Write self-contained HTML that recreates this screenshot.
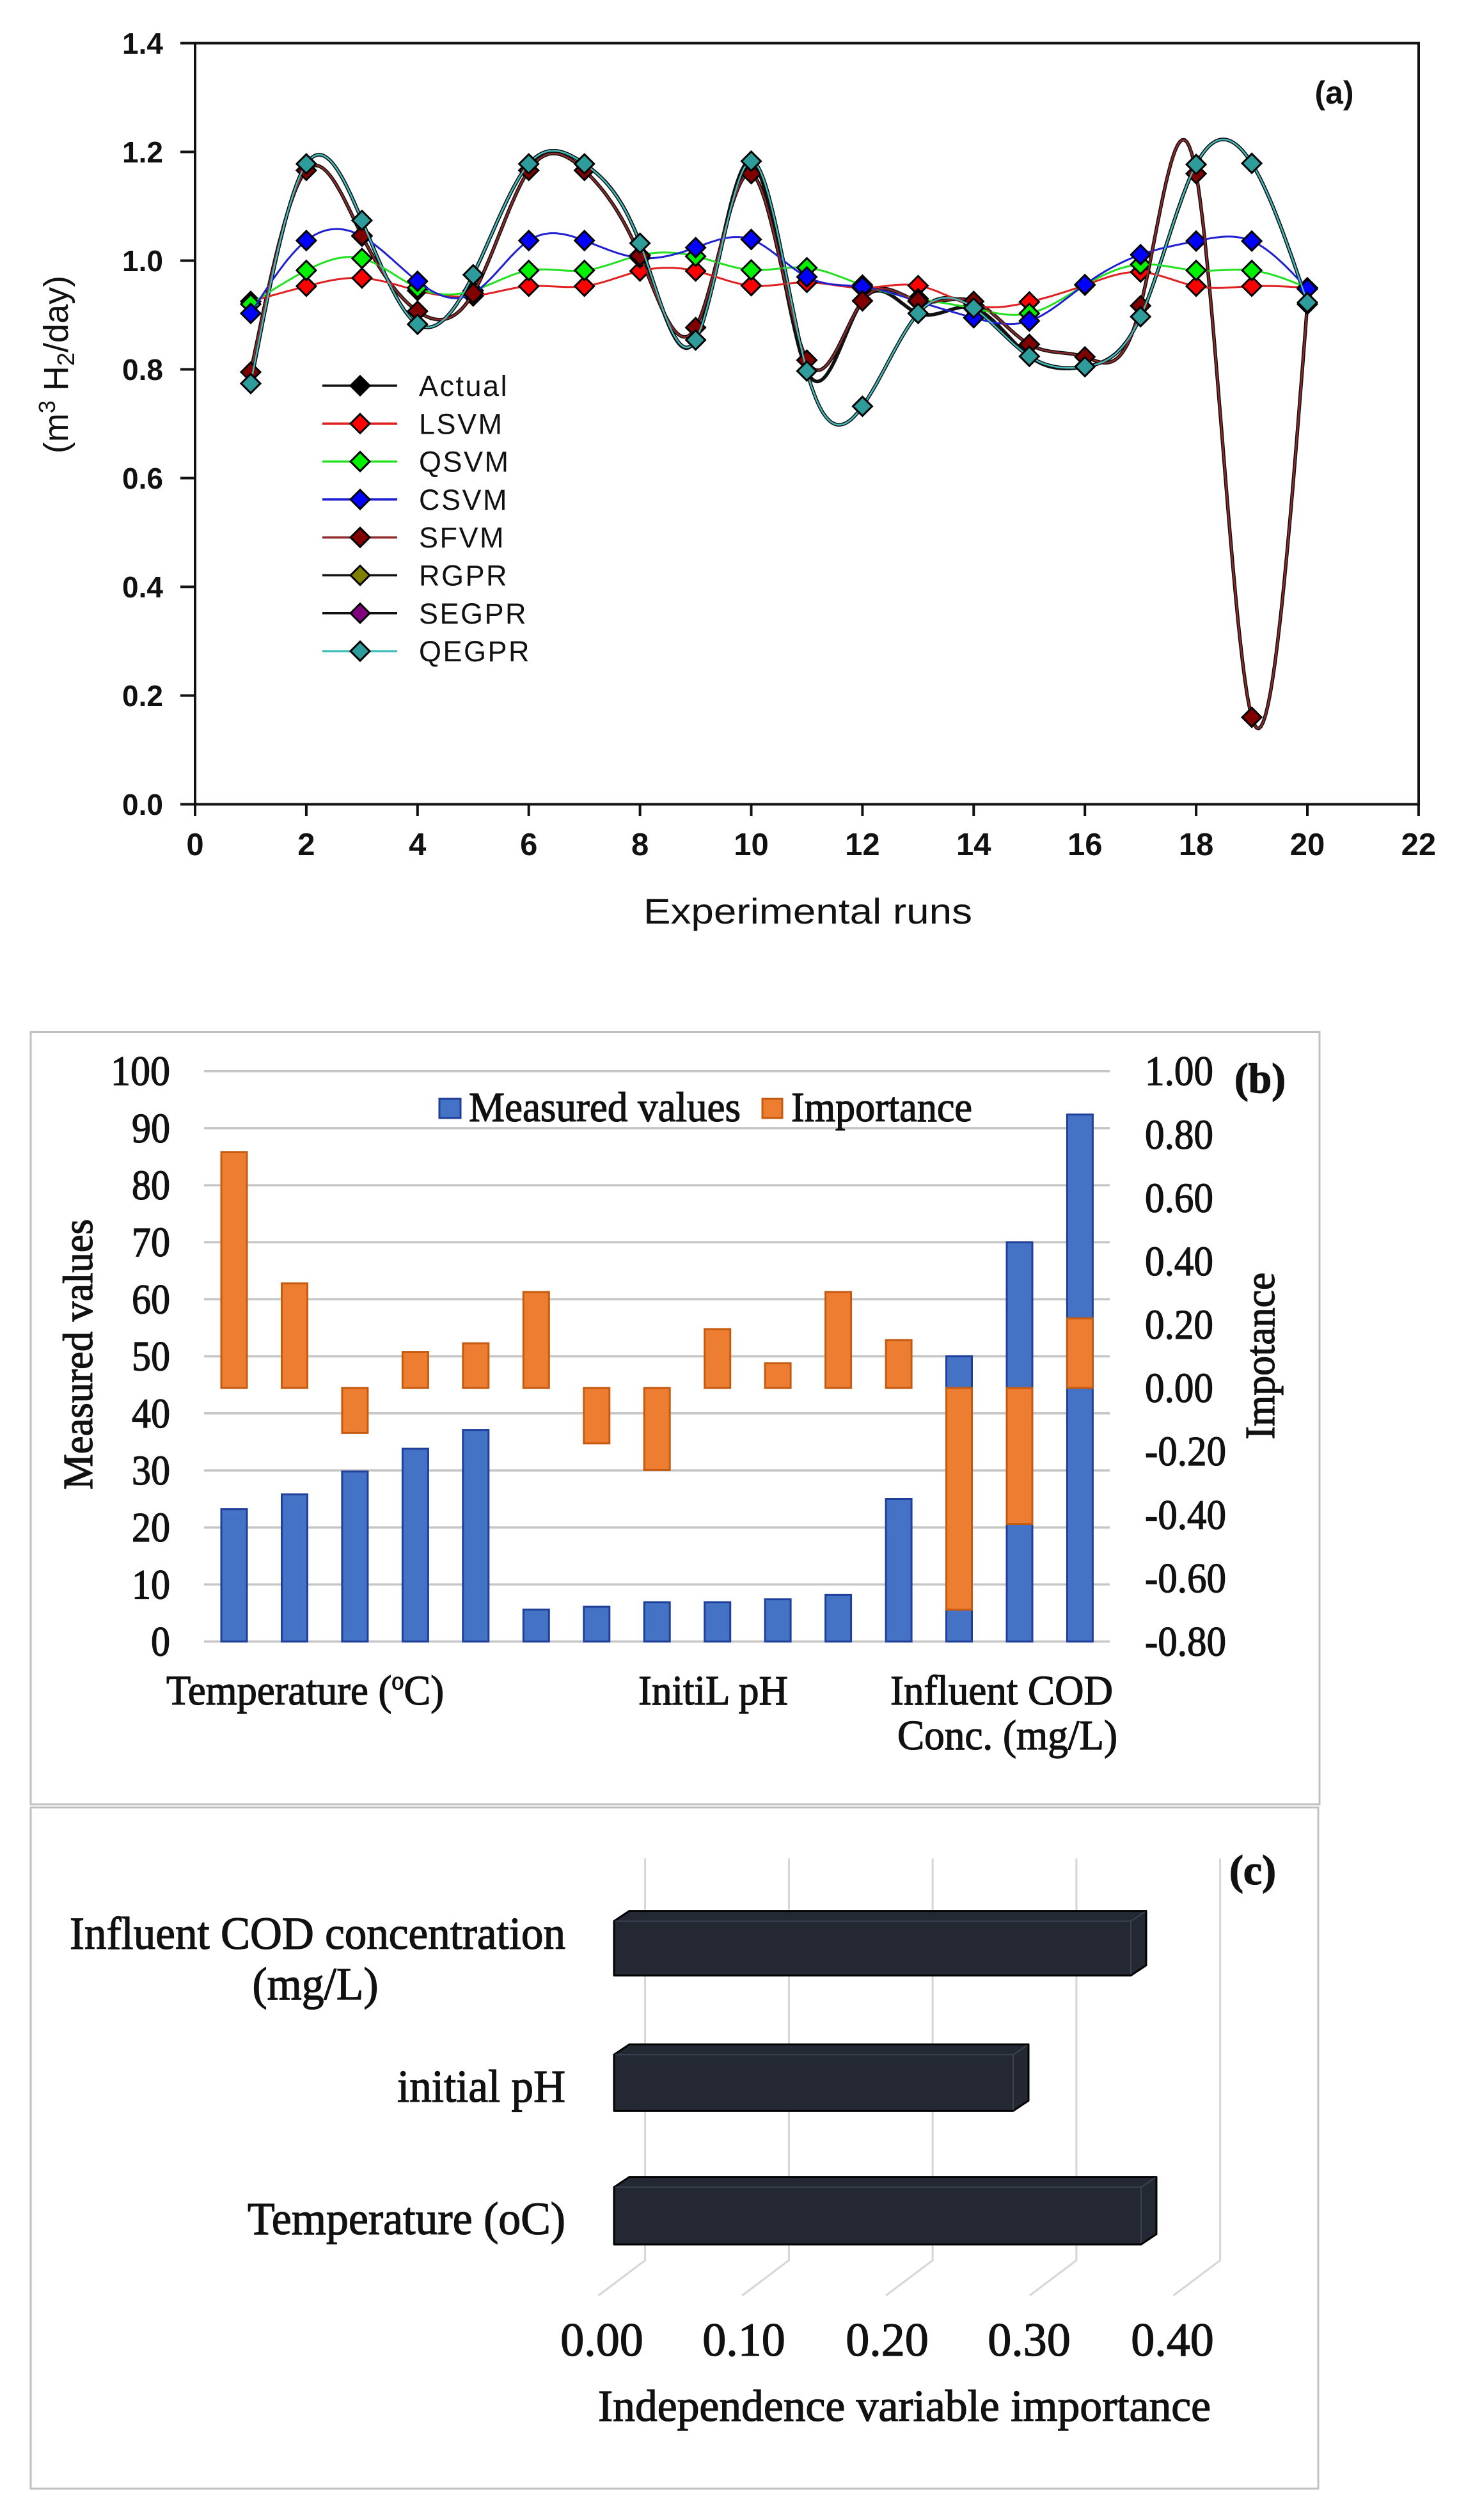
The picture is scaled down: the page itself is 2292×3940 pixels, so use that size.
<!DOCTYPE html>
<html>
<head>
<meta charset="utf-8">
<style>
html,body{margin:0;padding:0;background:#fff;}
svg{display:block;}
.sans{font-family:"Liberation Sans",Arial,sans-serif;}
.serif{font-family:"Liberation Serif","Times New Roman",serif;}
.bt{stroke:#111;stroke-width:1.3;}
</style>
</head>
<body>
<svg xmlns="http://www.w3.org/2000/svg" width="2292" height="3940" viewBox="0 0 2292 3940">
<defs>
  <path id="dm" d="M0,-15 L15,0 L0,15 L-15,0 Z" stroke="#000" stroke-width="3"/>
  <marker id="mR" markerUnits="userSpaceOnUse" markerWidth="40" markerHeight="40" refX="20" refY="20" overflow="visible"><path d="M20,5 L35,20 L20,35 L5,20 Z" fill="#ff0000" stroke="#000" stroke-width="3"/></marker>
  <marker id="mG" markerUnits="userSpaceOnUse" markerWidth="40" markerHeight="40" refX="20" refY="20" overflow="visible"><path d="M20,5 L35,20 L20,35 L5,20 Z" fill="#00f000" stroke="#000" stroke-width="3"/></marker>
  <marker id="mB" markerUnits="userSpaceOnUse" markerWidth="40" markerHeight="40" refX="20" refY="20" overflow="visible"><path d="M20,5 L35,20 L20,35 L5,20 Z" fill="#0000ff" stroke="#000" stroke-width="3"/></marker>
  <marker id="mD" markerUnits="userSpaceOnUse" markerWidth="40" markerHeight="40" refX="20" refY="20" overflow="visible"><path d="M20,5 L35,20 L20,35 L5,20 Z" fill="#800000" stroke="#000" stroke-width="3"/></marker>
  <marker id="mT" markerUnits="userSpaceOnUse" markerWidth="40" markerHeight="40" refX="20" refY="20" overflow="visible"><path d="M20,5 L35,20 L20,35 L5,20 Z" fill="#2f9c9c" stroke="#000" stroke-width="3"/></marker>
</defs>
<rect x="0" y="0" width="2292" height="3940" fill="#fff"/>

<!-- ================= CHART (a) ================= -->
<g stroke="#111" stroke-width="4" fill="none">
  <rect x="305" y="67.5" width="1913" height="1190"/>
  <path d="M282,1257.5H305M282,1087.5H305M282,917.5H305M282,747.5H305M282,577.5H305M282,407.5H305M282,237.5H305M282,67.5H305"/>
  <path d="M305,1257.5V1276M478.9,1257.5V1276M652.8,1257.5V1276M826.7,1257.5V1276M1000.6,1257.5V1276M1174.5,1257.5V1276M1348.4,1257.5V1276M1522.3,1257.5V1276M1696.2,1257.5V1276M1870.1,1257.5V1276M2044,1257.5V1276M2217.9,1257.5V1276"/>
</g>
<g class="sans" font-size="46" font-weight="bold" fill="#111" text-anchor="end">
  <text x="255" y="1274">0.0</text>
  <text x="255" y="1104">0.2</text>
  <text x="255" y="934">0.4</text>
  <text x="255" y="764">0.6</text>
  <text x="255" y="594">0.8</text>
  <text x="255" y="424">1.0</text>
  <text x="255" y="254">1.2</text>
  <text x="255" y="84">1.4</text>
</g>
<g class="sans" font-size="49" font-weight="bold" fill="#111" text-anchor="middle">
  <text x="305" y="1337">0</text>
  <text x="478.9" y="1337">2</text>
  <text x="652.8" y="1337">4</text>
  <text x="826.7" y="1337">6</text>
  <text x="1000.6" y="1337">8</text>
  <text x="1174.5" y="1337">10</text>
  <text x="1348.4" y="1337">12</text>
  <text x="1522.3" y="1337">14</text>
  <text x="1696.2" y="1337">16</text>
  <text x="1870.1" y="1337">18</text>
  <text x="2044" y="1337">20</text>
  <text x="2217.9" y="1337">22</text>
</g>
<text class="sans" x="1006" y="1444" font-size="56" fill="#111" textLength="514" lengthAdjust="spacingAndGlyphs">Experimental runs</text>
<text class="sans" font-size="54" fill="#111" text-anchor="middle" transform="translate(106,570) rotate(-90)">(m<tspan font-size="36" dy="-20">3</tspan><tspan dy="20"> H</tspan><tspan font-size="38" dy="10">2</tspan><tspan dy="-10">/day)</tspan></text>
<text class="sans" x="2086" y="162" font-size="50" font-weight="bold" fill="#111" text-anchor="middle">(a)</text>

<!-- black underlay lines (Actual / GPR) -->
<polyline class="sp" fill="none" stroke="#111" stroke-width="5.5" points="392,599.6 478.9,256.2 565.9,344.6 652.8,507 739.8,429.6 826.7,256.2 913.7,256.2 1000.6,380.3 1087.6,531.6 1174.5,252 1261.5,580.1 1348.4,470.4 1435.4,490 1522.3,481.5 1609.3,557.1 1696.2,573.3 1783.2,495.1 1870.1,257.1 1957.1,255.4 2044,473"/>
<polyline class="sp" fill="none" stroke="#111" stroke-width="5.5" points="392,581.8 478.9,266.4 565.9,368.4 652.8,486.6 739.8,458.5 826.7,266.4 913.7,266.4 1000.6,399.9 1087.6,512.1 1174.5,271.5 1261.5,563.1 1348.4,470.4 1435.4,470.4 1522.3,471.3 1609.3,538.4 1696.2,558 1783.2,478.1 1870.1,271.5 1957.1,1121.5 2044,475.5"/>
<polyline class="sp" fill="none" stroke="#111" stroke-width="5.5" points="392,599.6 478.9,256.2 565.9,344.6 652.8,507 739.8,429.6 826.7,256.2 913.7,256.2 1000.6,380.3 1087.6,531.6 1174.5,252 1261.5,580.1 1348.4,635.3 1435.4,490 1522.3,481.5 1609.3,557.1 1696.2,573.3 1783.2,495.1 1870.1,257.1 1957.1,255.4 2044,473"/>

<!-- LSVM -->
<polyline class="sp" fill="none" stroke="#e02020" stroke-width="3" points="392,471.3 478.9,447.5 565.9,434.7 652.8,454.3 739.8,462.8 826.7,447.5 913.7,447.5 1000.6,423.7 1087.6,423.7 1174.5,446.6 1261.5,441.5 1348.4,450 1435.4,446.6 1522.3,477.2 1609.3,472.1 1696.2,445.8 1783.2,425.4 1870.1,447.5 1957.1,447.5 2044,450"/>
<polyline fill="none" stroke="none" marker-start="url(#mR)" marker-mid="url(#mR)" marker-end="url(#mR)" points="392,471.3 478.9,447.5 565.9,434.7 652.8,454.3 739.8,462.8 826.7,447.5 913.7,447.5 1000.6,423.7 1087.6,423.7 1174.5,446.6 1261.5,441.5 1348.4,450 1435.4,446.6 1522.3,477.2 1609.3,472.1 1696.2,445.8 1783.2,425.4 1870.1,447.5 1957.1,447.5 2044,450"/>
<!-- QSVM -->
<polyline class="sp" fill="none" stroke="#20e020" stroke-width="3" points="392,475.5 478.9,422.8 565.9,404.1 652.8,450 739.8,454.3 826.7,422.8 913.7,422.8 1000.6,399 1087.6,400.7 1174.5,422 1261.5,418.6 1348.4,445.8 1435.4,467 1522.3,482.3 1609.3,490 1696.2,445.8 1783.2,413.5 1870.1,422.8 1957.1,422.8 2044,450"/>
<polyline fill="none" stroke="none" marker-start="url(#mG)" marker-mid="url(#mG)" marker-end="url(#mG)" points="392,475.5 478.9,422.8 565.9,404.1 652.8,450 739.8,454.3 826.7,422.8 913.7,422.8 1000.6,399 1087.6,400.7 1174.5,422 1261.5,418.6 1348.4,445.8 1435.4,467 1522.3,482.3 1609.3,490 1696.2,445.8 1783.2,413.5 1870.1,422.8 1957.1,422.8 2044,450"/>
<!-- CSVM -->
<polyline class="sp" fill="none" stroke="#2020d0" stroke-width="3" points="392,490 478.9,376.1 565.9,369.3 652.8,439.8 739.8,458.5 826.7,376.1 913.7,376.1 1000.6,403.3 1087.6,387.1 1174.5,374.4 1261.5,433 1348.4,448.3 1435.4,471.3 1522.3,496.8 1609.3,501.9 1696.2,444.9 1783.2,398.2 1870.1,376.9 1957.1,376.9 2044,451.7"/>
<polyline fill="none" stroke="none" marker-start="url(#mB)" marker-mid="url(#mB)" marker-end="url(#mB)" points="392,490 478.9,376.1 565.9,369.3 652.8,439.8 739.8,458.5 826.7,376.1 913.7,376.1 1000.6,403.3 1087.6,387.1 1174.5,374.4 1261.5,433 1348.4,448.3 1435.4,471.3 1522.3,496.8 1609.3,501.9 1696.2,444.9 1783.2,398.2 1870.1,376.9 1957.1,376.9 2044,451.7"/>
<!-- SFVM -->
<polyline class="sp" fill="none" stroke="#8e2a2a" stroke-width="2.5" points="392,581.8 478.9,266.4 565.9,368.4 652.8,486.6 739.8,458.5 826.7,266.4 913.7,266.4 1000.6,399.9 1087.6,512.1 1174.5,271.5 1261.5,563.1 1348.4,470.4 1435.4,470.4 1522.3,471.3 1609.3,538.4 1696.2,558 1783.2,478.1 1870.1,271.5 1957.1,1121.5 2044,475.5"/>
<polyline fill="none" stroke="none" marker-start="url(#mD)" marker-mid="url(#mD)" marker-end="url(#mD)" points="392,581.8 478.9,266.4 565.9,368.4 652.8,486.6 739.8,458.5 826.7,266.4 913.7,266.4 1000.6,399.9 1087.6,512.1 1174.5,271.5 1261.5,563.1 1348.4,470.4 1435.4,470.4 1522.3,471.3 1609.3,538.4 1696.2,558 1783.2,478.1 1870.1,271.5 1957.1,1121.5 2044,475.5"/>
<!-- QEGPR -->
<polyline class="sp" fill="none" stroke="#45bcbc" stroke-width="2.5" points="392,599.6 478.9,256.2 565.9,344.6 652.8,507 739.8,429.6 826.7,256.2 913.7,256.2 1000.6,380.3 1087.6,531.6 1174.5,252 1261.5,580.1 1348.4,635.3 1435.4,490 1522.3,481.5 1609.3,557.1 1696.2,573.3 1783.2,495.1 1870.1,257.1 1957.1,255.4 2044,473"/>
<polyline fill="none" stroke="none" marker-start="url(#mT)" marker-mid="url(#mT)" marker-end="url(#mT)" points="392,599.6 478.9,256.2 565.9,344.6 652.8,507 739.8,429.6 826.7,256.2 913.7,256.2 1000.6,380.3 1087.6,531.6 1174.5,252 1261.5,580.1 1348.4,635.3 1435.4,490 1522.3,481.5 1609.3,557.1 1696.2,573.3 1783.2,495.1 1870.1,257.1 1957.1,255.4 2044,473"/>

<!-- Legend (a) -->
<g stroke-width="3.5">
  <line x1="504" y1="603" x2="621" y2="603" stroke="#111"/>
  <line x1="504" y1="662.3" x2="621" y2="662.3" stroke="#e02020"/>
  <line x1="504" y1="721.6" x2="621" y2="721.6" stroke="#20e020"/>
  <line x1="504" y1="780.9" x2="621" y2="780.9" stroke="#2020d0"/>
  <line x1="504" y1="840.2" x2="621" y2="840.2" stroke="#8e2a2a"/>
  <line x1="504" y1="899.5" x2="621" y2="899.5" stroke="#111"/>
  <line x1="504" y1="958.8" x2="621" y2="958.8" stroke="#111"/>
  <line x1="504" y1="1018.1" x2="621" y2="1018.1" stroke="#45bcbc"/>
</g>
<use href="#dm" x="563" y="603" fill="#000"/>
<use href="#dm" x="563" y="662.3" fill="#ff0000"/>
<use href="#dm" x="563" y="721.6" fill="#00f000"/>
<use href="#dm" x="563" y="780.9" fill="#0000ff"/>
<use href="#dm" x="563" y="840.2" fill="#800000"/>
<use href="#dm" x="563" y="899.5" fill="#808000"/>
<use href="#dm" x="563" y="958.8" fill="#800080"/>
<use href="#dm" x="563" y="1018.1" fill="#2f9c9c"/>
<g class="sans" font-size="45" fill="#111" letter-spacing="2.5">
  <text x="655" y="619">Actual</text>
  <text x="655" y="678.3">LSVM</text>
  <text x="655" y="737.6">QSVM</text>
  <text x="655" y="796.9">CSVM</text>
  <text x="655" y="856.2">SFVM</text>
  <text x="655" y="915.5">RGPR</text>
  <text x="655" y="974.8">SEGPR</text>
  <text x="655" y="1034.1">QEGPR</text>
</g>

<!-- ================= CHART (b) ================= -->
<rect x="48" y="1613.5" width="2015" height="1207.5" fill="none" stroke="#c0c0c0" stroke-width="3"/>
<g stroke="#c6c6c6" stroke-width="3.5">
  <line x1="319" x2="1735" y1="2566.5" y2="2566.5"/>
  <line x1="319" x2="1735" y1="2477.3" y2="2477.3"/>
  <line x1="319" x2="1735" y1="2388.1" y2="2388.1"/>
  <line x1="319" x2="1735" y1="2299" y2="2299"/>
  <line x1="319" x2="1735" y1="2209.8" y2="2209.8"/>
  <line x1="319" x2="1735" y1="2120.6" y2="2120.6"/>
  <line x1="319" x2="1735" y1="2031.4" y2="2031.4"/>
  <line x1="319" x2="1735" y1="1942.2" y2="1942.2"/>
  <line x1="319" x2="1735" y1="1853.1" y2="1853.1"/>
  <line x1="319" x2="1735" y1="1763.9" y2="1763.9"/>
  <line x1="319" x2="1735" y1="1674.7" y2="1674.7"/>
</g>
<!-- blue bars -->
<g fill="#4472c4" stroke="#1f3f9a" stroke-width="3">
  <rect x="346" y="2359.6" width="40" height="206.9"/>
  <rect x="440.5" y="2336.4" width="40" height="230.1"/>
  <rect x="534.9" y="2300.7" width="40" height="265.8"/>
  <rect x="629.4" y="2265.1" width="40" height="301.4"/>
  <rect x="723.8" y="2235.6" width="40" height="330.9"/>
  <rect x="818.3" y="2516.6" width="40" height="49.9"/>
  <rect x="912.8" y="2512.1" width="40" height="54.4"/>
  <rect x="1007.2" y="2505" width="40" height="61.5"/>
  <rect x="1101.7" y="2505" width="40" height="61.5"/>
  <rect x="1196.1" y="2500.5" width="40" height="66"/>
  <rect x="1290.6" y="2493.4" width="40" height="73.1"/>
  <rect x="1385.1" y="2343.5" width="40" height="223"/>
  <rect x="1479.5" y="2120.6" width="40" height="445.9"/>
  <rect x="1574" y="1942.2" width="40" height="624.3"/>
  <rect x="1668.4" y="1742.5" width="40" height="824"/>
</g>
<!-- orange bars -->
<g fill="#ed7d31" stroke="#c55a11" stroke-width="3">
  <rect x="346" y="1801.5" width="40" height="368.6"/>
  <rect x="440.5" y="2006.6" width="40" height="163.5"/>
  <rect x="534.9" y="2170.1" width="40" height="70.3"/>
  <rect x="629.4" y="2113.6" width="40" height="56.5"/>
  <rect x="723.8" y="2100.2" width="40" height="69.9"/>
  <rect x="818.3" y="2020" width="40" height="150.1"/>
  <rect x="912.8" y="2170.1" width="40" height="86.7"/>
  <rect x="1007.2" y="2170.1" width="40" height="128.3"/>
  <rect x="1101.7" y="2078" width="40" height="92.1"/>
  <rect x="1196.1" y="2131.5" width="40" height="38.6"/>
  <rect x="1290.6" y="2020" width="40" height="150.1"/>
  <rect x="1385.1" y="2095.3" width="40" height="74.8"/>
  <rect x="1479.5" y="2170.1" width="40" height="346.8"/>
  <rect x="1574" y="2170.1" width="40" height="212.5"/>
  <rect x="1668.4" y="2061.1" width="40" height="109"/>
</g>
<!-- left tick labels -->
<g class="serif bt" font-size="66" fill="#111" text-anchor="end">
  <text x="266" y="1696.7" textLength="93" lengthAdjust="spacingAndGlyphs">100</text>
  <text x="266" y="1785.9" textLength="60" lengthAdjust="spacingAndGlyphs">90</text>
  <text x="266" y="1875.1" textLength="60" lengthAdjust="spacingAndGlyphs">80</text>
  <text x="266" y="1964.2" textLength="60" lengthAdjust="spacingAndGlyphs">70</text>
  <text x="266" y="2053.4" textLength="60" lengthAdjust="spacingAndGlyphs">60</text>
  <text x="266" y="2142.6" textLength="60" lengthAdjust="spacingAndGlyphs">50</text>
  <text x="266" y="2231.8" textLength="60" lengthAdjust="spacingAndGlyphs">40</text>
  <text x="266" y="2321" textLength="60" lengthAdjust="spacingAndGlyphs">30</text>
  <text x="266" y="2410.1" textLength="60" lengthAdjust="spacingAndGlyphs">20</text>
  <text x="266" y="2499.3" textLength="60" lengthAdjust="spacingAndGlyphs">10</text>
  <text x="266" y="2588.5" textLength="30" lengthAdjust="spacingAndGlyphs">0</text>
</g>
<!-- right tick labels -->
<g class="serif bt" font-size="66" fill="#111">
  <text x="1790" y="1696.7" textLength="107" lengthAdjust="spacingAndGlyphs">1.00</text>
  <text x="1790" y="1795.8" textLength="107" lengthAdjust="spacingAndGlyphs">0.80</text>
  <text x="1790" y="1894.9" textLength="107" lengthAdjust="spacingAndGlyphs">0.60</text>
  <text x="1790" y="1994" textLength="107" lengthAdjust="spacingAndGlyphs">0.40</text>
  <text x="1790" y="2093.1" textLength="107" lengthAdjust="spacingAndGlyphs">0.20</text>
  <text x="1790" y="2192.1" textLength="107" lengthAdjust="spacingAndGlyphs">0.00</text>
  <text x="1790" y="2291.2" textLength="127" lengthAdjust="spacingAndGlyphs">-0.20</text>
  <text x="1790" y="2390.3" textLength="127" lengthAdjust="spacingAndGlyphs">-0.40</text>
  <text x="1790" y="2489.4" textLength="127" lengthAdjust="spacingAndGlyphs">-0.60</text>
  <text x="1790" y="2588.5" textLength="127" lengthAdjust="spacingAndGlyphs">-0.80</text>
</g>
<!-- legend (b) -->
<rect x="687" y="1718" width="33" height="30" fill="#4472c4" stroke="#1f3f9a" stroke-width="3"/>
<rect x="1192" y="1718" width="31" height="30" fill="#ed7d31" stroke="#c55a11" stroke-width="3"/>
<g class="serif bt" font-size="66" fill="#111">
  <text x="733" y="1753" textLength="425" lengthAdjust="spacingAndGlyphs">Measured values</text>
  <text x="1237" y="1753" textLength="283" lengthAdjust="spacingAndGlyphs">Importance</text>
  <text x="1930" y="1708" font-weight="bold" textLength="80" lengthAdjust="spacingAndGlyphs">(b)</text>
  <text transform="translate(144,2117.5) rotate(-90)" text-anchor="middle" textLength="423" lengthAdjust="spacingAndGlyphs">Measured values</text>
  <text transform="translate(1992,2120) rotate(-90)" text-anchor="middle" textLength="261" lengthAdjust="spacingAndGlyphs">Impotance</text>
  <text transform="translate(260,2665) scale(0.95,1)">Temperature (<tspan font-size="40" dy="-24">o</tspan><tspan dy="24">C)</tspan></text>
  <text x="998" y="2665" textLength="234" lengthAdjust="spacingAndGlyphs">InitiL pH</text>
  <text x="1392" y="2665" textLength="348" lengthAdjust="spacingAndGlyphs">Influent COD</text>
  <text x="1403" y="2735" textLength="344" lengthAdjust="spacingAndGlyphs">Conc. (mg/L)</text>
</g>

<!-- ================= CHART (c) ================= -->
<rect x="48" y="2826" width="2013" height="1065" fill="none" stroke="#c0c0c0" stroke-width="3"/>
<g fill="none" stroke="#d6d6d6" stroke-width="3">
  <path d="M1008.6,2905.5V3534L935.6,3589"/>
  <path d="M1233.4,2905.5V3534L1160.4,3589"/>
  <path d="M1458.1,2905.5V3534L1385.1,3589"/>
  <path d="M1682.9,2905.5V3534L1609.9,3589"/>
  <path d="M1907.6,2905.5V3534L1834.6,3589"/>
</g>
<g fill="#232833" stroke="#000" stroke-width="3" stroke-linejoin="round">
  <path d="M960,3003.6 L984,2987.6 L1792,2987.6 L1792,3072.7 L1768,3088.7 L960,3088.7 Z"/>
  <path d="M960,3212.4 L984,3196.4 L1608,3196.4 L1608,3284.4 L1584,3300.4 L960,3300.4 Z"/>
  <path d="M960,3419.6 L984,3403.6 L1808,3403.6 L1808,3493.1 L1784,3509.1 L960,3509.1 Z"/>
</g>
<g fill="none" stroke="#3c4250" stroke-width="2">
  <path d="M962,3003.6H1768L1790,2989M1768,3003.6V3087"/>
  <path d="M962,3212.4H1584L1606,3198M1584,3212.4V3299"/>
  <path d="M962,3419.6H1784L1806,3405M1784,3419.6V3507"/>
</g>
<g class="serif bt" fill="#111">
  <text x="884" y="3047" font-size="72" text-anchor="end" textLength="775" lengthAdjust="spacingAndGlyphs">Influent COD concentration</text>
  <text x="493" y="3126" font-size="72" text-anchor="middle" textLength="197" lengthAdjust="spacingAndGlyphs">(mg/L)</text>
  <text x="884" y="3286" font-size="72" text-anchor="end" textLength="263" lengthAdjust="spacingAndGlyphs">initial pH</text>
  <text x="884" y="3493" font-size="72" text-anchor="end" textLength="497" lengthAdjust="spacingAndGlyphs">Temperature (oC)</text>
  <text x="1922" y="2946" font-size="66" font-weight="bold" textLength="73" lengthAdjust="spacingAndGlyphs">(c)</text>
  <g font-size="74" text-anchor="middle">
    <text x="941" y="3683">0.00</text>
    <text x="1163" y="3683">0.10</text>
    <text x="1387" y="3683">0.20</text>
    <text x="1609" y="3683">0.30</text>
    <text x="1833" y="3683">0.40</text>
  </g>
  <text x="935" y="3785" font-size="70" textLength="958" lengthAdjust="spacingAndGlyphs">Independence variable importance</text>
</g>
</svg>
<script>
(function(){
  var lines = document.querySelectorAll('polyline.sp');
  for (var L = 0; L < lines.length; L++) {
    var pl = lines[L];
    var pts = pl.getAttribute('points').trim().split(/\s+/).map(function(p){return p.split(',').map(Number);});
    var n = pts.length; if (n < 3) continue;
    var y = pts.map(function(p){return p[1];});
    var M = new Array(n).fill(0);
    var a=[],b=[],c=[],d=[];
    for (var i=1;i<n-1;i++){a.push(1);b.push(4);c.push(1);d.push(6*(y[i+1]-2*y[i]+y[i-1]));}
    var m=d.length;
    for (var i=1;i<m;i++){var w=a[i]/b[i-1];b[i]-=w*c[i-1];d[i]-=w*d[i-1];}
    var s=new Array(m); s[m-1]=d[m-1]/b[m-1];
    for (var i=m-2;i>=0;i--) s[i]=(d[i]-c[i]*s[i+1])/b[i];
    for (var i=0;i<m;i++) M[i+1]=s[i];
    var out=[]; var N=24;
    for (var i=0;i<n-1;i++){
      var kmax=(i===n-2)?N:N-1;
      for (var k=0;k<=kmax;k++){
        var t=k/N, u=1-t;
        var yy=u*y[i]+t*y[i+1]+((u*u*u-u)*M[i]+(t*t*t-t)*M[i+1])/6;
        var xx=pts[i][0]+t*(pts[i+1][0]-pts[i][0]);
        out.push(xx.toFixed(1)+','+yy.toFixed(1));
      }
    }
    pl.setAttribute('points', out.join(' '));
  }
})();
</script>
</body>
</html>
